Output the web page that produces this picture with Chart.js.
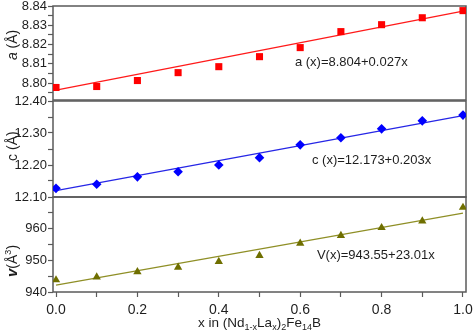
<!DOCTYPE html>
<html>
<head>
<meta charset="utf-8">
<script src="https://cdn.jsdelivr.net/npm/chart.js@4.4.0/dist/chart.umd.min.js"></script>
<style>
  body { margin: 0; background: #fff; }
  #wrap { position: relative; width: 474px; height: 332px; }
  #wrap canvas { position: absolute; left: 0; top: 0; }
</style>
</head>
<body>
<div id="wrap">
  <canvas id="panelA" width="474" height="332"></canvas>
  <canvas id="panelC" width="474" height="332"></canvas>
  <canvas id="panelV" width="474" height="332"></canvas>
</div>
<script>
// composition x of (Nd1-xLax)2Fe14B
const xVals = [0, 0.1, 0.2, 0.3, 0.4, 0.5, 0.6, 0.7, 0.8, 0.9, 1.0];
// lattice parameters
const aVals = [8.7977, 8.7982, 8.8013, 8.8054, 8.8085, 8.8137, 8.8184, 8.8267, 8.8303, 8.8339, 8.8376];
const cVals = [12.127, 12.140, 12.163, 12.179, 12.200, 12.223, 12.263, 12.285, 12.313, 12.338, 12.356];
const vVals = [943.8, 944.7, 946.4, 947.8, 949.6, 951.5, 955.4, 957.8, 960.3, 962.4, 966.7];

// fitted lines, ends at x = 0 and x = 1
const fitX = [0, 1];
const aFit = [8.7963, 8.8373];
const cFit = [12.120, 12.354];
const vFit = [942.2, 964.9];

// ticks
const xTickVals = [0, 0.1, 0.2, 0.3, 0.4, 0.5, 0.6, 0.7, 0.8, 0.9, 1.0];
const xTickLabels = ["0.0", "", "0.2", "", "0.4", "", "0.6", "", "0.8", "", "1.0"];
const aTickVals = [8.795, 8.80, 8.805, 8.81, 8.815, 8.82, 8.825, 8.83, 8.835, 8.84];
const aTickLabels = ["", "8.80", "", "8.81", "", "8.82", "", "8.83", "", "8.84"];
const cTickVals = [12.10, 12.15, 12.20, 12.25, 12.30, 12.35, 12.40];
const cTickLabels = ["12.10", "", "12.20", "", "12.30", "", "12.40"];
const vTickVals = [940, 945, 950, 955, 960, 965];
const vTickLabels = ["940", "", "950", "", "960", ""];

const FONT = "'Liberation Sans', Arial, sans-serif";
const FRAME = "#5a5a5a";
const INK = "#1e1e1e";

function pts(xs, ys) {
  return xs.map((x, i) => ({ x: x, y: ys[i] }));
}

// draws a run of text pieces centred on x, each piece may have its own size/style/shift
function drawRich(ctx, segs, x, y) {
  let w = 0;
  segs.forEach(s => {
    ctx.font = `${s.style || "normal"} ${s.size}px ${FONT}`;
    w += ctx.measureText(s.t).width;
  });
  let cx = x - w / 2;
  segs.forEach(s => {
    ctx.font = `${s.style || "normal"} ${s.size}px ${FONT}`;
    ctx.fillText(s.t, cx, y + (s.dy || 0));
    cx += ctx.measureText(s.t).width;
  });
}

const decor = {
  id: "decor",
  beforeDatasetsDraw(chart) {
    const a = chart.chartArea;
    const ctx = chart.ctx;
    ctx.save();
    ctx.strokeStyle = FRAME;
    ctx.lineWidth = 1.5;
    ctx.strokeRect(a.left, a.top, a.right - a.left, a.bottom - a.top);
    ctx.restore();
  },
  afterDraw(chart, args, opts) {
    const ctx = chart.ctx;
    const xs = chart.scales.x;
    const ys = chart.scales.y;
    ctx.save();
    ctx.fillStyle = INK;
    ctx.textAlign = "left";
    ctx.textBaseline = "alphabetic";

    // y title, rotated
    ctx.save();
    ctx.translate(opts.titleX, ys.getPixelForValue(opts.titleAt));
    ctx.rotate(-Math.PI / 2);
    drawRich(ctx, opts.title, 0, 5);
    ctx.restore();

    // fit equation
    ctx.font = `13px ${FONT}`;
    ctx.textBaseline = "middle";
    ctx.fillText(opts.note.text, xs.getPixelForValue(opts.note.x), ys.getPixelForValue(opts.note.y));

    // x title (bottom panel only)
    if (opts.xTitle) {
      ctx.textBaseline = "alphabetic";
      const a = chart.chartArea;
      drawRich(ctx, opts.xTitle, (a.left + a.right) / 2, 327);
    }
    ctx.restore();
  }
};

function makePanel(id, o) {
  return new Chart(document.getElementById(id), {
    type: "scatter",
    data: {
      datasets: [
        {
          data: pts(xVals, o.vals),
          pointStyle: o.shape,
          pointRadius: o.radius,
          backgroundColor: o.color,
          borderColor: o.color,
          borderWidth: 0
        },
        {
          type: "line",
          data: pts(fitX, o.fit),
          borderColor: o.lineColor,
          borderWidth: 1.3,
          pointRadius: 0,
          showLine: true,
          fill: false
        }
      ]
    },
    options: {
      responsive: false,
      animation: false,
      layout: { padding: { top: o.top, bottom: o.bottom, left: 0, right: 8 } },
      plugins: {
        legend: { display: false },
        tooltip: { enabled: false },
        decor: { title: o.title, titleX: 12, titleAt: o.titleAt, note: o.note, xTitle: o.xTitle }
      },
      scales: {
        x: {
          type: "linear",
          min: -0.0074,
          max: 1.0074,
          display: o.showX,
          afterBuildTicks: s => { s.ticks = xTickVals.map(v => ({ value: v })); },
          afterFit: s => { s.height = o.showX ? 40 : 0; s.paddingLeft = 0; s.paddingRight = 0; },
          border: { display: false },
          grid: { drawOnChartArea: false, drawTicks: true, tickLength: 5, tickColor: FRAME, tickWidth: 1.2 },
          ticks: {
            autoSkip: false,
            maxRotation: 0,
            padding: 5,
            color: INK,
            font: { size: 14, family: FONT },
            callback: (v, i) => xTickLabels[i]
          }
        },
        y: {
          min: o.min,
          max: o.max,
          afterBuildTicks: s => { s.ticks = o.tickVals.map(v => ({ value: v })); },
          afterFit: s => { s.width = 53; s.paddingTop = 0; s.paddingBottom = 0; },
          border: { display: false },
          grid: { drawOnChartArea: false, drawTicks: true, tickLength: 5, tickColor: FRAME, tickWidth: 1.2 },
          ticks: {
            autoSkip: false,
            padding: 1,
            color: INK,
            font: { size: 13, family: FONT },
            callback: (v, i) => o.tickLabels[i]
          }
        }
      }
    },
    plugins: [decor]
  });
}

makePanel("panelA", {
  vals: aVals, fit: aFit, shape: "rect", radius: 5, color: "#ff0000", lineColor: "#ff1a1a",
  min: 8.7912, max: 8.84, tickVals: aTickVals, tickLabels: aTickLabels,
  top: 6, bottom: 232, showX: false,
  title: [{ t: "a", size: 14, style: "italic" }, { t: " (Å)", size: 14 }], titleAt: 8.8198,
  note: { x: 0.587, y: 8.8105, text: "a (x)=8.804+0.027x" }
});

makePanel("panelC", {
  vals: cVals, fit: cFit, shape: "rectRot", radius: 4.8, color: "#0000ff", lineColor: "#2626e6",
  min: 12.10, max: 12.40, tickVals: cTickVals, tickLabels: cTickLabels,
  top: 101, bottom: 135, showX: false,
  title: [{ t: "c (Å)", size: 14 }], titleAt: 12.259,
  note: { x: 0.629, y: 12.2156, text: "c (x)=12.173+0.203x" }
});

makePanel("panelV", {
  vals: vVals, fit: vFit, shape: "triangle", radius: 4.8, color: "#6f6f00", lineColor: "#8f8f26",
  min: 940, max: 970, tickVals: vTickVals, tickLabels: vTickLabels,
  top: 197, bottom: 0, showX: true,
  title: [{ t: "v", size: 15, style: "italic bold" }, { t: "(Å", size: 14 }, { t: "3", size: 9, dy: -6 }, { t: ")", size: 14 }],
  titleAt: 949.8,
  note: { x: 0.641, y: 951.7, text: "V(x)=943.55+23.01x" },
  xTitle: [
    { t: "x in (Nd", size: 13.5 }, { t: "1-x", size: 9, dy: 3 },
    { t: "La", size: 13.5 }, { t: "x", size: 9, dy: 3 },
    { t: ")", size: 13.5 }, { t: "2", size: 9, dy: 3 },
    { t: "Fe", size: 13.5 }, { t: "14", size: 9, dy: 3 },
    { t: "B", size: 13.5 }
  ]
});
</script>
</body>
</html>
